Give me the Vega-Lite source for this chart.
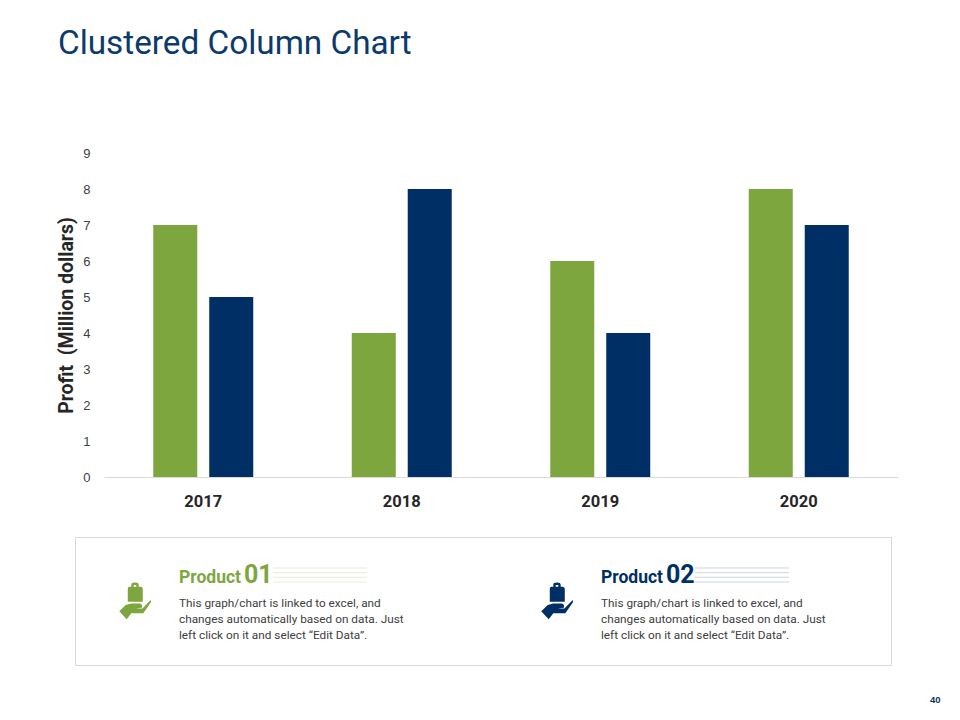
{
  "$schema": "https://vega.github.io/schema/vega-lite/v6.json",
  "background": "white",
  "padding": {"left": 56, "top": 26, "right": 0, "bottom": 0},
  "bounds": "flush",
  "spacing": 60,
  "config": {"font": "Liberation Sans"},
  "datasets": {
    "profit": [
      {"year": "2017", "product": "Product 01", "profit": 7},
      {"year": "2017", "product": "Product 02", "profit": 5},
      {"year": "2018", "product": "Product 01", "profit": 4},
      {"year": "2018", "product": "Product 02", "profit": 8},
      {"year": "2019", "product": "Product 01", "profit": 6},
      {"year": "2019", "product": "Product 02", "profit": 4},
      {"year": "2020", "product": "Product 01", "profit": 8},
      {"year": "2020", "product": "Product 02", "profit": 7}
    ],
    "products": [
      {"product": "Product 01", "word": "Product", "number": "01"},
      {"product": "Product 02", "word": "Product", "number": "02"}
    ],
    "blurb": [
      {"product": "Product 01", "line": "l1", "text": "This graph/chart is linked to excel, and"},
      {"product": "Product 01", "line": "l2", "text": "changes automatically based on data. Just"},
      {"product": "Product 01", "line": "l3", "text": "left click on it and select “Edit Data”."},
      {"product": "Product 02", "line": "l1", "text": "This graph/chart is linked to excel, and"},
      {"product": "Product 02", "line": "l2", "text": "changes automatically based on data. Just"},
      {"product": "Product 02", "line": "l3", "text": "left click on it and select “Edit Data”."}
    ],
    "stripes": [
      {"product": "Product 01", "stripe": "s1"},
      {"product": "Product 01", "stripe": "s2"},
      {"product": "Product 01", "stripe": "s3"},
      {"product": "Product 01", "stripe": "s4"},
      {"product": "Product 02", "stripe": "s1"},
      {"product": "Product 02", "stripe": "s2"},
      {"product": "Product 02", "stripe": "s3"},
      {"product": "Product 02", "stripe": "s4"}
    ]
  },
  "vconcat": [
    {
      "width": 816,
      "height": 324,
      "title": {
        "text": "Clustered Column Chart",
        "anchor": "start",
        "frame": "group",
        "font": "Roboto",
        "fontSize": 33.3,
        "fontWeight": "normal",
        "color": "#0B3A6B",
        "dx": -17,
        "offset": 86
      },
      "view": {"stroke": null},
      "data": {"name": "profit"},
      "mark": {"type": "bar", "width": 44},
      "encoding": {
        "x": {
          "field": "year",
          "type": "nominal",
          "scale": {"range": [29, 823], "padding": 0},
          "axis": {
            "title": null,
            "labelAngle": 0,
            "labelFont": "Roboto",
            "labelFontSize": 16.5,
            "labelFontWeight": "bold",
            "labelColor": "#262626",
            "labelPadding": 16,
            "ticks": false,
            "grid": false,
            "domainColor": "#D9D9D9"
          }
        },
        "xOffset": {
          "field": "product",
          "type": "nominal",
          "scale": {"paddingInner": 0.214, "paddingOuter": 0.88}
        },
        "y": {
          "field": "profit",
          "type": "quantitative",
          "scale": {"domain": [0, 9], "nice": false},
          "axis": {
            "title": "Profit \u00a0(Million dollars)",
            "titleFont": "Roboto",
            "titleFontSize": 19.5,
            "titleFontWeight": "bold",
            "titleColor": "#262626",
            "titleX": 1,
            "titleY": 162,
            "titleAlign": "center",
            "values": [0, 1, 2, 3, 4, 5, 6, 7, 8, 9],
            "labelFont": "Liberation Sans",
            "labelFontSize": 13,
            "labelColor": "#404040",
            "labelPadding": -15,
            "ticks": false,
            "domain": false,
            "grid": false
          }
        },
        "color": {
          "field": "product",
          "type": "nominal",
          "scale": {"domain": ["Product 01", "Product 02"], "range": ["#7DA63F", "#002F65"]},
          "legend": null
        }
      }
    },
    {
      "width": 816,
      "height": 128,
      "view": {"stroke": "#D9D9D9", "strokeWidth": 1},
      "resolve": {"scale": {"y": "independent"}},
      "encoding": {
        "x": {
          "field": "product",
          "type": "nominal",
          "scale": {"type": "point", "domain": ["Product 01", "Product 02"], "range": [104, 526], "padding": 0},
          "axis": null
        },
        "color": {
          "field": "product",
          "type": "nominal",
          "scale": {"domain": ["Product 01", "Product 02"], "range": ["#7DA63F", "#0B3263"]},
          "legend": null
        }
      },
      "layer": [
        {
          "data": {"name": "stripes"},
          "mark": {"type": "tick", "orient": "horizontal", "size": 94, "thickness": 1, "xOffset": 141, "opacity": 0.2},
          "encoding": {
            "y": {
              "field": "stripe",
              "type": "nominal",
              "scale": {"type": "point", "domain": ["s1", "s2", "s3", "s4"], "range": [31, 45], "padding": 0},
              "axis": null
            }
          }
        },
        {
          "data": {"name": "products"},
          "mark": {"type": "point", "filled": true, "opacity": 1, "size": 1369, "strokeWidth": 0, "xOffset": -44, "yOffset": 64,
            "shape": "M-0.2 -0.77 L-0.2 -0.88 Q-0.2 -1 0 -1 Q0.2 -1 0.2 -0.88 L0.2 -0.77 L0.3 -0.77 Q0.42 -0.77 0.42 -0.65 L0.42 0.04 L-0.39 0.04 L-0.39 -0.65 Q-0.39 -0.77 -0.3 -0.77 Z M-0.07 -0.77 L0.07 -0.77 L0.07 -0.87 L-0.07 -0.87 Z M-0.85 0.55 L-0.5 0.22 L-0.2 0.13 L0.25 0.13 Q0.42 0.15 0.37 0.36 L0.03 0.4 L0.4 0.4 L0.85 -0.05 L0.87 0.05 L0.45 0.66 L-0.2 0.66 L-0.45 0.99 Z"
          },
          "encoding": {"y": {"value": 0}}
        },
        {
          "data": {"name": "products"},
          "mark": {"type": "text", "align": "left", "baseline": "middle", "font": "Roboto", "fontSize": 17.5, "fontWeight": "bold", "y": 41},
          "encoding": {"text": {"field": "word"}}
        },
        {
          "data": {"name": "products"},
          "mark": {"type": "text", "align": "left", "baseline": "middle", "font": "Roboto", "fontSize": 25, "fontWeight": "bold", "dx": 65, "y": 38},
          "encoding": {"text": {"field": "number"}}
        },
        {
          "data": {"name": "blurb"},
          "mark": {"type": "text", "align": "left", "baseline": "middle", "font": "Roboto", "fontSize": 11.8},
          "encoding": {
            "y": {
              "field": "line",
              "type": "nominal",
              "scale": {"type": "point", "domain": ["l1", "l2", "l3"], "range": [66, 98], "padding": 0},
              "axis": null
            },
            "text": {"field": "text"},
            "color": {"value": "#404040"}
          }
        },
        {
          "data": {"values": [{"product": "Product 02", "page": "40"}]},
          "mark": {"type": "text", "align": "left", "baseline": "middle", "font": "Liberation Sans", "fontSize": 9.5, "fontWeight": "bold", "dx": 329, "y": 163},
          "encoding": {"text": {"field": "page"}, "color": {"value": "#0B3263"}}
        }
      ]
    }
  ]
}
